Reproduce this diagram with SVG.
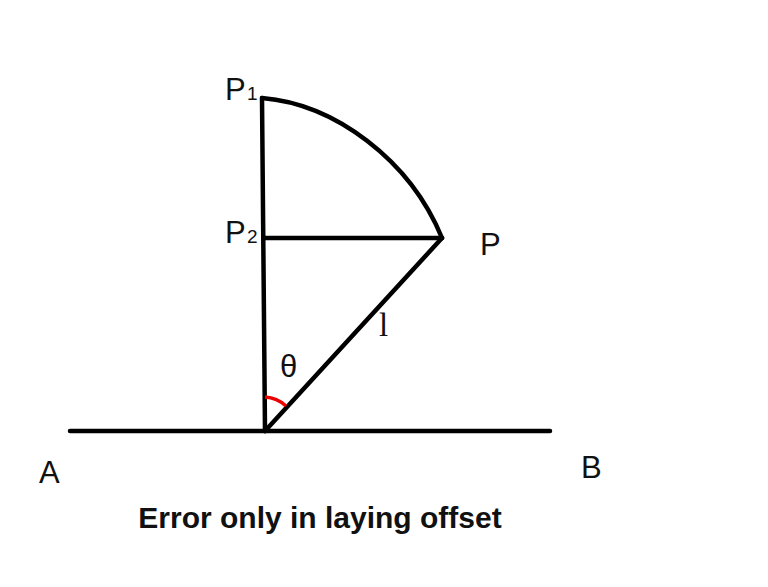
<svg xmlns="http://www.w3.org/2000/svg" width="768" height="587" viewBox="0 0 768 587">
<style>
.ln{stroke:#000;stroke-width:4.5;fill:none;stroke-linecap:round}
.t{font-family:"Liberation Sans",Arial,sans-serif;font-size:31px;fill:#111}
.s{font-family:"Liberation Sans",Arial,sans-serif;font-size:19px;fill:#111}
</style>
<rect width="768" height="587" fill="#fff"/>
<g id="connectors">
<line class="ln" x1="70" y1="431" x2="550" y2="431"/>
<line class="ln" x1="262" y1="98" x2="265" y2="431"/>
<line class="ln" x1="264" y1="238" x2="442" y2="238"/>
<line class="ln" x1="265" y1="431" x2="442" y2="238"/>
<path class="ln" d="M262,98 C335,104 410,160 442,238"/>
<path d="M265,397 A34,34 0 0 1 286,406" stroke="#e00" stroke-width="3.5" fill="none"/>
</g>
<g id="P1"><text class="t" x="225" y="100">P</text><text class="s" x="247" y="100">1</text></g>
<g id="P2"><text class="t" x="225" y="243">P</text><text class="s" x="247" y="243">2</text></g>
<g id="P"><text class="t" x="480" y="255">P</text></g>
<g id="l"><text x="379" y="336" font-family="Liberation Serif,serif" font-size="33" fill="#111">l</text></g>
<g id="theta"><text x="280" y="377" font-family="Liberation Sans,Arial,sans-serif" font-size="31" fill="#111">θ</text></g>
<g id="A"><text class="t" x="39" y="483">A</text></g>
<g id="B"><text class="t" x="581" y="478">B</text></g>
<g id="title"><text x="320" y="528" text-anchor="middle" font-family="Liberation Sans,Arial,sans-serif" font-weight="bold" font-size="30" fill="#111">Error only in laying offset</text></g>
</svg>
